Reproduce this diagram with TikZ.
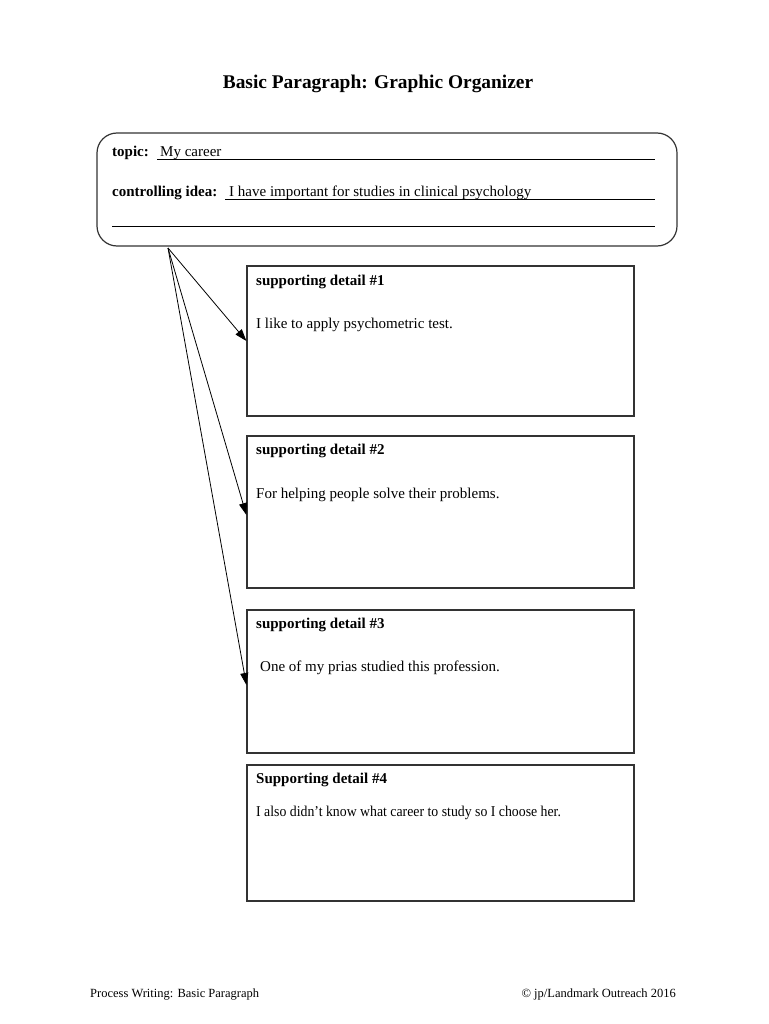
\documentclass[tikz,border=0pt]{standalone}
\usepackage{fontspec}
\setmainfont{Liberation Serif}
\newfontfamily\narrowserif[FakeStretch=0.92]{Liberation Serif}
\usetikzlibrary{arrows.meta,positioning}

\tikzset{
  topicbox/.style = {draw = black!80, line width = 1.2pt, rounded corners = 20pt,
    minimum width = 580pt, minimum height = 113pt, inner sep = 0pt},
  detailbox/.style = {draw = black!80, line width = 1.2pt,
    minimum width = 387pt, inner sep = 0pt},
  heading/.style = {anchor = base west, inner sep = 0pt,
    font = \fontsize{15}{18}\selectfont\bfseries},
  entry/.style = {anchor = base west, inner sep = 0pt,
    font = \fontsize{15}{18}\selectfont},
  rule/.style = {line width = 0.9pt},
  pointer/.style = {-{Triangle[length=12pt,width=8pt]}, line width = 0.8pt}
}

\begin{document}
\begin{tikzpicture}[x = 1pt, y = -1pt]
\useasboundingbox (0,0) rectangle (768,1024);
\node[anchor = base, inner sep = 0pt, font = \fontsize{19.4}{23}\selectfont\bfseries]
  (title) at (378,89) {Basic Paragraph: Graphic Organizer};

% topic frame
\node[topicbox] (topic) at (387,189.5) {};
\node[heading] (topiclabel) at (112,157) {topic:};
\node[entry] (topictext) at (160,157) {My career};
\draw[rule] (157,159) -- (655,159);
\node[heading] (idealabel) at (112,197) {controlling idea:};
\node[entry] (ideatext) at (229,197) {I have important for studies in clinical psychology};
\draw[rule] (225,199) -- (655,199);
\draw[rule] (112,226) -- (655,226);

% supporting details
\node[detailbox, minimum height = 150pt] (d1) at (440.5,341) {};
\node[detailbox, minimum height = 152pt] (d2) at (440.5,512) {};
\node[detailbox, minimum height = 143pt] (d3) at (440.5,681.5) {};
\node[detailbox, minimum height = 136pt] (d4) at (440.5,833) {};

\node[heading] (h1) at (256,285) {supporting detail \#1};
\node[entry] (t1) at (256,328) {I like to apply psychometric test.};
\node[heading] (h2) at (256,454) {supporting detail \#2};
\node[entry] (t2) at (256,498) {For helping people solve their problems.};
\node[heading] (h3) at (256,628) {supporting detail \#3};
\node[entry] (t3) at (260,671) {One of my prias studied this profession.};
\node[heading] (h4) at (256,783) {Supporting detail \#4};
\node[entry, font = \fontsize{15}{18}\narrowserif] (t4) at (256,816)
  {I also didn’t know what career to study so I choose her.};

% pointers
\coordinate (root) at (168,248);
\draw[pointer] (root) -- (d1.west);
\draw[pointer] (root) -- ([yshift=-3pt]d2.west);
\draw[pointer] (root) -- ([yshift=-3.5pt]d3.west);

% footer
\node[entry, font = \fontsize{12.5}{15}\selectfont] (footl) at (90,997)
  {Process Writing: Basic Paragraph};
\node[anchor = base east, inner sep = 0pt, font = \fontsize{12.5}{15}\selectfont]
  (footr) at (676,997) {\textcopyright{} jp/Landmark Outreach 2016};
\end{tikzpicture}
\end{document}
